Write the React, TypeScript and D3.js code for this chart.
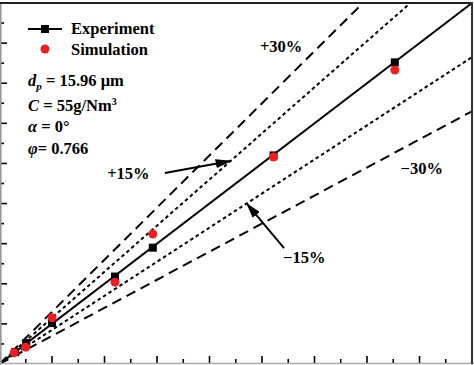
import React, { useEffect, useRef } from 'react';
import * as d3 from 'd3';

// parity plot: experiment vs simulation
const expX = [30, 51, 100, 220, 292, 522, 753];
const expY = [30, 52, 102, 218, 290, 520, 752];
const simX = [28, 50, 100, 220, 292, 522, 753];
const simY = [28, 42, 115, 204, 324, 516, 733];

const refFactors = [1, 1.15, 0.85, 1.3, 0.7];
const refStyles = ['solid', 'dot', 'dot', 'dash', 'dash'];

const axisMax = 900;
const tickStep = 50;

// annotation arrows (data coords): tail -> tip
const arrowLabels = ['+15%', '\u221215%'];
const arrowTails = [[315, 476], [542, 289]];
const arrowTips = [[440, 506], [471, 400]];
const bandLabels = ['+30%', '\u221230%'];
const bandLabelPos = [[496, 778], [764, 474]];
const arrowLabelPos = [[205, 461], [540, 253]];

const W = 474;
const H = 365;

const App = () => {
    const svgRef = useRef(null);

    useEffect(() => {
        const svg = d3.select(svgRef.current);
        svg.selectAll('*').remove();

        const xScale = d3.scaleLinear().domain([0, axisMax]).range([-0.5, 472]);
        const yScale = d3.scaleLinear().domain([0, axisMax]).range([364, 3]);

        const font = '"Liberation Serif", "Times New Roman", serif';

        svg.append('defs').append('marker')
            .attr('id', 'arrowhead')
            .attr('viewBox', '0 0 14 8')
            .attr('refX', 13)
            .attr('refY', 4)
            .attr('markerWidth', 8)
            .attr('markerHeight', 4.6)
            .attr('markerUnits', 'strokeWidth')
            .attr('orient', 'auto')
            .append('path')
            .attr('d', 'M0,0 L14,4 L0,8 z')
            .attr('fill', '#000');

        // reference lines: y = x and the +/-15 %, +/-30 % bands
        refFactors.forEach((f, i) => {
            const xEnd = Math.min(axisMax, axisMax / f);
            const style = refStyles[i];
            svg.append('path')
                .datum([0, xEnd])
                .attr('fill', 'none')
                .attr('stroke', '#000')
                .attr('stroke-width', 2)
                .attr('stroke-dasharray', style === 'dot' ? '3.5,3' : style === 'dash' ? '10,6' : null)
                .attr('d', d3.line<number>().x(d => xScale(d)).y(d => yScale(d * f)));
        });

        // ticks (inward)
        const ticks = d3.range(tickStep, axisMax, tickStep);
        const tg = svg.append('g').attr('stroke', '#000').attr('stroke-width', 1.6);
        ticks.forEach(t => {
            const major = t % 100 === 0;
            tg.append('line')
                .attr('x1', 0).attr('x2', major ? 7 : 4)
                .attr('y1', yScale(t)).attr('y2', yScale(t));
            tg.append('line')
                .attr('x1', xScale(t)).attr('x2', xScale(t))
                .attr('y1', 363).attr('y2', major ? 356 : 359);
        });

        // frame
        svg.append('line').attr('x1', 0.8).attr('x2', 0.8).attr('y1', 2).attr('y2', 365)
            .attr('stroke', '#999').attr('stroke-width', 1.6);
        svg.append('line').attr('x1', 0).attr('x2', 474).attr('y1', 363.5).attr('y2', 363.5)
            .attr('stroke', '#aaa').attr('stroke-width', 1.6);
        svg.append('line').attr('x1', 0).attr('x2', 473).attr('y1', 3).attr('y2', 3)
            .attr('stroke', '#222').attr('stroke-width', 2);
        svg.append('line').attr('x1', 472).attr('x2', 472).attr('y1', 2).attr('y2', 364)
            .attr('stroke', '#333').attr('stroke-width', 2);

        // experiment squares
        svg.append('g').selectAll('rect')
            .data(expX)
            .join('rect')
            .attr('x', d => xScale(d) - 4)
            .attr('y', (d, i) => yScale(expY[i]) - 4)
            .attr('width', 8)
            .attr('height', 8)
            .attr('fill', '#000');

        // simulation circles
        svg.append('g').selectAll('circle')
            .data(simX)
            .join('circle')
            .attr('cx', d => xScale(d))
            .attr('cy', (d, i) => yScale(simY[i]))
            .attr('r', 4.5)
            .attr('fill', '#f01e23');

        // arrows
        arrowTails.forEach((t, i) => {
            svg.append('line')
                .attr('x1', xScale(t[0])).attr('y1', yScale(t[1]))
                .attr('x2', xScale(arrowTips[i][0])).attr('y2', yScale(arrowTips[i][1]))
                .attr('stroke', '#000')
                .attr('stroke-width', 2)
                .attr('marker-end', 'url(#arrowhead)');
        });

        const label = (x: number, y: number, s: string) =>
            svg.append('text')
                .attr('x', x).attr('y', y)
                .attr('font-family', font)
                .attr('font-weight', 'bold')
                .attr('font-size', 16.5)
                .attr('fill', '#000')
                .text(s);

        arrowLabels.forEach((s, i) => label(xScale(arrowLabelPos[i][0]), yScale(arrowLabelPos[i][1]), s));
        bandLabels.forEach((s, i) => label(xScale(bandLabelPos[i][0]), yScale(bandLabelPos[i][1]), s));

        // legend
        svg.append('line').attr('x1', 28).attr('x2', 62).attr('y1', 29).attr('y2', 29)
            .attr('stroke', '#000').attr('stroke-width', 2);
        svg.append('rect').attr('x', 41).attr('y', 25).attr('width', 8).attr('height', 8).attr('fill', '#000');
        svg.append('circle').attr('cx', 45).attr('cy', 49).attr('r', 4.5).attr('fill', '#f01e23');
        label(71, 34, 'Experiment');
        label(71, 55, 'Simulation');

        // parameters
        const t1 = label(28, 86, '');
        t1.append('tspan').attr('font-style', 'italic').text('d');
        t1.append('tspan').attr('font-style', 'italic').attr('font-size', 11).attr('dy', 4).text('p');
        t1.append('tspan').attr('dy', -4).text(' = 15.96 \u03bcm');

        const t2 = label(28, 111, '');
        t2.append('tspan').attr('font-style', 'italic').text('C');
        t2.append('tspan').text(' = 55g/Nm');
        t2.append('tspan').attr('font-size', 10).attr('dy', -6).text('3');

        const t3 = label(28, 132, '');
        t3.append('tspan').attr('font-style', 'italic').text('\u03b1');
        t3.append('tspan').text(' = 0\u00b0');

        const t4 = label(28, 154, '');
        t4.append('tspan').attr('font-style', 'italic').text('\u03c6');
        t4.append('tspan').text('= 0.766');
    }, []);

    return (
        <svg ref={svgRef} width={W} height={H}
            style={{ position: 'absolute', left: 0, top: 0, background: '#fff' }} />
    );
};

export default App;
